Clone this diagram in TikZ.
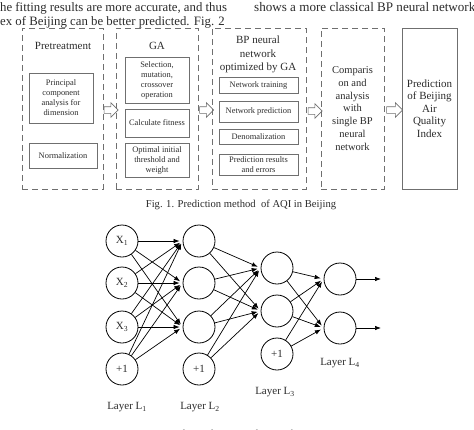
\documentclass[tikz,border=0pt]{standalone}
\usepackage{fontspec}
\setmainfont{Liberation Serif}
\usepackage{tikz}
\usetikzlibrary{arrows.meta,positioning,shapes.arrows}
\definecolor{frame}{HTML}{6F6F6F}
\definecolor{ink}{HTML}{2B2B2B}
\newcommand{\bodytxt}{\fontsize{12.8}{14}\selectfont}
\newcommand{\headtxt}{\fontsize{11}{13.5}\selectfont}
\newcommand{\boxtxt}{\fontsize{8.4}{10}\selectfont}
\newcommand{\sidetxt}{\fontsize{10.5}{12.8}\selectfont}

\begin{document}
\begin{tikzpicture}[x=1pt,y=-1pt,every node/.style={text=ink},
    stage/.style={draw=frame,dash pattern=on 6pt off 4pt,line width=0.8pt,minimum height=161pt,inner sep=0pt,align=center},
    task/.style={draw=frame,line width=0.7pt,inner sep=0pt,align=center,font=\boxtxt},
    hollow/.style={single arrow,draw=frame,line width=0.6pt,inner sep=3pt,single arrow head extend=4pt,minimum height=14pt},
    neuron/.style={draw,circle,line width=0.8pt,minimum size=32pt,inner sep=0pt,font=\headtxt},
    link/.style={-{Latex[length=6pt,width=4.5pt]},line width=0.7pt,shorten >=3pt}]
  \useasboundingbox (0,0) rectangle (474,429);
  \clip (0,0) rectangle (474,429);
  % running text above and below
  \node[anchor=base west,inner sep=0pt,font=\bodytxt] (txta) at (0,11) {he fitting results are more accurate, and thus};
  \node[anchor=base west,inner sep=0pt,font=\bodytxt] (txtb) at (0,25) {ex of Beijing can be better predicted. Fig. 2};
  \node[anchor=base west,inner sep=0pt,font=\fontsize{13.1}{14}\selectfont] (txtc) at (254,11) {shows a more classical BP neural network};
  % flow chart
  \node[stage,minimum width=81pt] (pre) at (62.5,108.5) {};
  \node[stage,minimum width=82pt] (ga) at (157,108.5) {};
  \node[stage,minimum width=94pt] (bp) at (259,108.5) {};
  \node[stage,minimum width=63pt,font=\sidetxt] (cmp) at (352.5,108.5) {Comparis\\on and\\analysis\\with\\single BP\\neural\\network};
  \node[draw=frame,line width=0.8pt,minimum width=55pt,minimum height=161pt,inner sep=0pt,align=center,font=\fontsize{11}{12.5}\selectfont] (aqi) at (429.5,108.5) {Prediction\\of Beijing\\Air\\Quality\\Index};
  \node[font=\headtxt] (preh) at (63,46) {Pretreatment};
  \node[font=\headtxt] (gah) at (157,46) {GA};
  \node[font=\headtxt,align=center] (bph) at (258,54.5) {BP neural\\network\\optimized by GA};
  \node[task,minimum width=64pt,minimum height=50pt] (pca) at (61,98) {Principal\\component\\analysis for\\dimension};
  \node[task,minimum width=68pt,minimum height=25pt] (norm) at (63,155.5) {Normalization};
  \node[task,minimum width=64pt,minimum height=46pt] (sel) at (157,80) {Selection,\\mutation,\\crossover\\operation};
  \node[task,minimum width=64pt,minimum height=28pt] (fit) at (157,123) {Calculate fitness};
  \node[task,minimum width=64pt,minimum height=34pt] (opt) at (157,160) {Optimal initial\\threshold and\\weight};
  \node[task,minimum width=79pt,minimum height=16pt] (train) at (258.5,85) {Network training};
  \node[task,minimum width=79pt,minimum height=21pt] (pred) at (258.5,111.5) {Network prediction};
  \node[task,minimum width=79pt,minimum height=15pt] (denorm) at (258.5,136.5) {Denomalization};
  \node[task,minimum width=79pt,minimum height=21pt] (res) at (258.5,164.5) {Prediction results\\and errors};
  \node[hollow] (p1) at (109.5,110) {};
  \node[hollow] (p2) at (205,110) {};
  \node[hollow] (p3) at (313.5,111) {};
  \node[hollow,minimum height=16pt] (p4) at (393,110) {};
  \node[anchor=base,font=\fontsize{10.6}{12}\selectfont] (cap1) at (241,207) {Fig. 1. Prediction method\ \ of AQI in Beijing};
  % BP network
  \foreach \i/\y in {1/241,2/283,3/327} {
    \node[neuron] (a\i) at (122,\y) {X\textsubscript{\i}};
  }
  \node[neuron] (a4) at (122,369) {+1};
  \foreach \i/\y in {1/241,2/283,3/327} {
    \node[neuron] (b\i) at (199,\y) {};
  }
  \node[neuron] (b4) at (199,369) {+1};
  \foreach \i/\y in {1/268,2/311} {
    \node[neuron] (c\i) at (277,\y) {};
  }
  \node[neuron] (c3) at (277,354) {+1};
  \foreach \i/\y in {1/279,2/328} {
    \node[neuron] (d\i) at (340,\y) {};
    \coordinate (o\i) at (381,\y);
    \draw[link,shorten >=0pt] (d\i) -- (o\i);
  }
  \foreach \s in {1,2,3,4} {
    \foreach \t in {1,2,3} {
      \draw[link] (a\s) -- (b\t.west);
    }
  }
  \foreach \s in {1,2,3,4} {
    \foreach \t in {1,2} {
      \draw[link] (b\s) -- (c\t.west);
    }
  }
  \foreach \s in {1,2,3} {
    \foreach \t in {1,2} {
      \draw[link] (c\s) -- (d\t.west);
    }
  }
  \node[font=\headtxt] (l1) at (127,407) {Layer L\textsubscript{1}};
  \node[font=\headtxt] (l2) at (200,407) {Layer L\textsubscript{2}};
  \node[font=\headtxt] (l3) at (275,392) {Layer L\textsubscript{3}};
  \node[font=\headtxt] (l4) at (340,363) {Layer L\textsubscript{4}};
  \node[anchor=base,font=\fontsize{10.6}{12}\selectfont] (cap2) at (240,437) {Fig. 2. Classical BP neural network structure};
\end{tikzpicture}
\end{document}
